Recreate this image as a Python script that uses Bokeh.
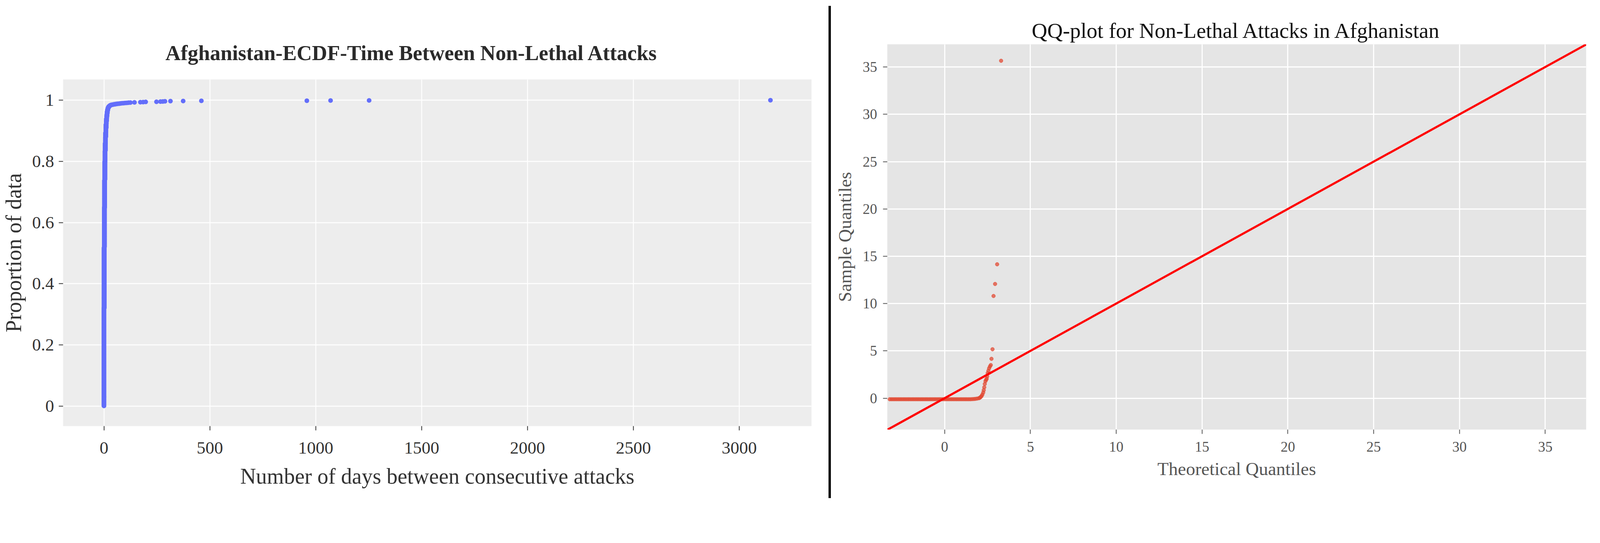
import numpy as np
from bokeh.plotting import figure
from bokeh.models import Range1d, FixedTicker, Div, Slope, CustomJSTickFormatter
from bokeh.layouts import row
from bokeh.embed import file_html
from bokeh.resources import INLINE

# ---------------- data ----------------
# ECDF: days between consecutive non-lethal attacks (value, number of gaps)
ecdf_days = [0, 1, 2, 3, 4, 5, 6, 7, 8, 9, 10, 11, 12, 13, 14, 15, 16, 17, 18, 19, 20,
             22, 24, 26, 28, 30, 33, 36, 40, 44, 48, 52, 56, 60, 66, 72, 78, 85, 92,
             100, 108, 116, 125, 144, 172, 185, 197, 248, 267, 278, 288, 314, 374,
             460, 958, 1070, 1252, 3147]
ecdf_counts = [640, 398, 260, 180, 120, 70, 50, 40, 30, 30, 25, 20, 18, 15, 14, 12, 8, 7, 6, 5, 5,
               4, 3, 3, 2, 2, 2, 1, 1, 1, 1, 1, 1, 1, 1, 1, 1, 1, 1,
               1, 1, 1, 1, 1, 1, 1, 1, 1, 1, 1, 1, 1, 1,
               1, 1, 1, 1, 1]
ecdf_xticks = [0, 500, 1000, 1500, 2000, 2500, 3000]
ecdf_yticks = [0, 0.2, 0.4, 0.6, 0.8, 1]
ecdf_xlim = (-193, 3341)
ecdf_ylim = (-0.0656, 1.068)

# QQ plot: theoretical vs sample quantiles
qq_theoretical = [-3.2, -3.1, -3.0, -2.9, -2.8, -2.7, -2.6, -2.5, -2.4, -2.3,
                  -2.2, -2.1, -2.0, -1.9, -1.8, -1.7, -1.6, -1.5, -1.4, -1.3,
                  -1.2, -1.1, -1.0, -0.9, -0.8, -0.7, -0.6, -0.5, -0.4, -0.3,
                  -0.2, -0.1, 0.0, 0.1, 0.2, 0.3, 0.4, 0.5, 0.6, 0.7,
                  0.8, 0.9, 1.0, 1.1, 1.2, 1.3, 1.4, 1.5, 1.6, 1.7,
                  1.8, 1.9, 2.0, 2.05, 2.1, 2.15, 2.2, 2.25, 2.28, 2.31,
                  2.34, 2.38, 2.42, 2.45, 2.48, 2.51, 2.55, 2.59, 2.64, 2.69,
                  2.73, 2.79, 2.85, 2.94, 3.06, 3.29]
qq_sample = [-0.11, -0.11, -0.11, -0.11, -0.11, -0.11, -0.11, -0.11, -0.11, -0.11,
             -0.11, -0.11, -0.11, -0.11, -0.11, -0.11, -0.11, -0.11, -0.11, -0.11,
             -0.11, -0.11, -0.11, -0.11, -0.11, -0.11, -0.11, -0.11, -0.11, -0.11,
             -0.11, -0.11, -0.11, -0.11, -0.11, -0.11, -0.11, -0.11, -0.11, -0.11,
             -0.11, -0.11, -0.11, -0.11, -0.11, -0.11, -0.11, -0.11, -0.10, -0.09,
             -0.07, -0.04, 0.0, 0.05, 0.12, 0.22, 0.38, 0.6, 0.85, 1.15,
             1.5, 1.8, 1.95, 2.05, 2.3, 2.65, 2.9, 3.15, 3.35, 3.5,
             4.16, 5.17, 10.8, 12.07, 14.15, 35.66]
qq_ticks = [0, 5, 10, 15, 20, 25, 30, 35]
qq_xlim = (-3.34, 37.38)
qq_ylim = (-3.32, 37.4)

FONT = "Liberation Serif"

# ---------------- left: ECDF ----------------
x_ecdf = np.repeat(np.array(ecdf_days, dtype=float), ecdf_counts)
n = len(x_ecdf)
y_ecdf = np.arange(1, n + 1) / n

p1 = figure(frame_width=1916, frame_height=888,
            x_range=Range1d(*ecdf_xlim), y_range=Range1d(*ecdf_ylim),
            output_backend="svg", toolbar_location=None, frame_align=False,
            min_border_left=161, min_border_right=44, min_border_top=203, min_border_bottom=190,
            background_fill_color="#EDEDED", border_fill_color="white",
            outline_line_color=None, margin=(0, 0, 0, 0),
            title="Afghanistan-ECDF-Time Between Non-Lethal Attacks")
p1.title.text_font = FONT
p1.title.text_font_size = "54px"
p1.title.text_font_style = "bold"
p1.title.text_color = "#2a2a2a"
p1.title.align = "left"
p1.title.offset = 262
p1.title.standoff = 76

p1.scatter(x_ecdf, y_ecdf, size=12, fill_color="#636EFA", line_color=None)

p1.xaxis.ticker = FixedTicker(ticks=ecdf_xticks)
p1.yaxis.ticker = FixedTicker(ticks=ecdf_yticks)
p1.yaxis.formatter = CustomJSTickFormatter(code="return String(Math.round(tick*10)/10);")
p1.xaxis.axis_label = "Number of days between consecutive attacks"
p1.yaxis.axis_label = "Proportion of data"
for ax in (p1.xaxis, p1.yaxis):
    ax.axis_line_color = None
    ax.major_tick_line_color = "#333333"
    ax.major_tick_line_width = 2
    ax.major_tick_out = 11
    ax.major_tick_in = 0
    ax.minor_tick_line_color = None
    ax.major_label_text_font = FONT
    ax.major_label_text_font_size = "45px"
    ax.major_label_text_color = "#333333"
    ax.axis_label_text_font = FONT
    ax.axis_label_text_font_size = "56px"
    ax.axis_label_text_font_style = "normal"
    ax.axis_label_text_color = "#333333"
p1.xaxis.major_label_standoff = 30
p1.yaxis.major_label_standoff = 12
p1.xaxis.axis_label_standoff = 24
p1.yaxis.axis_label_standoff = 13
p1.grid.grid_line_color = "white"
p1.grid.grid_line_width = 2.3

# ---------------- divider ----------------
divider = Div(text="", width=6, height=1261, margin=(15, 0, 0, 0),
              styles={"background-color": "#000000"})

# ---------------- right: QQ plot ----------------
p2 = figure(frame_width=1789, frame_height=987,
            x_range=Range1d(*qq_xlim), y_range=Range1d(*qq_ylim),
            output_backend="svg", toolbar_location=None, frame_align=False,
            min_border_left=144, min_border_right=28, min_border_top=113, min_border_bottom=178,
            background_fill_color="#E5E5E5", border_fill_color="white",
            outline_line_color=None, margin=(0, 0, 0, 0),
            title="QQ-plot for Non-Lethal Attacks in Afghanistan")
p2.title.text_font = FONT
p2.title.text_font_size = "55px"
p2.title.text_font_style = "normal"
p2.title.text_color = "#111111"
p2.title.align = "center"
p2.title.standoff = 10

p2.scatter(qq_theoretical, qq_sample, size=9.5, fill_color="#E24A33", fill_alpha=0.75,
           line_color="#E24A33", line_alpha=0.75, line_width=1)
p2.add_layout(Slope(gradient=1, y_intercept=0, line_color="#FF0000", line_width=5.5))

p2.xaxis.ticker = FixedTicker(ticks=qq_ticks)
p2.yaxis.ticker = FixedTicker(ticks=qq_ticks)
p2.xaxis.axis_label = "Theoretical Quantiles"
p2.yaxis.axis_label = "Sample Quantiles"
for ax in (p2.xaxis, p2.yaxis):
    ax.axis_line_color = None
    ax.major_tick_line_color = "#555555"
    ax.major_tick_line_width = 2
    ax.major_tick_out = 11
    ax.major_tick_in = 0
    ax.minor_tick_line_color = None
    ax.major_label_text_font = FONT
    ax.major_label_text_font_size = "37px"
    ax.major_label_text_color = "#555555"
    ax.axis_label_text_font = FONT
    ax.axis_label_text_font_size = "47px"
    ax.axis_label_text_font_style = "normal"
    ax.axis_label_text_color = "#555555"
p2.xaxis.major_label_standoff = 20
p2.yaxis.major_label_standoff = 15
p2.xaxis.axis_label_standoff = 15
p2.yaxis.axis_label_standoff = 17
p2.grid.grid_line_color = "white"
p2.grid.grid_line_width = 2.8

layout = row(p1, divider, p2, spacing=0)

with open("out.html", "w") as f:
    f.write(file_html(layout, INLINE))
